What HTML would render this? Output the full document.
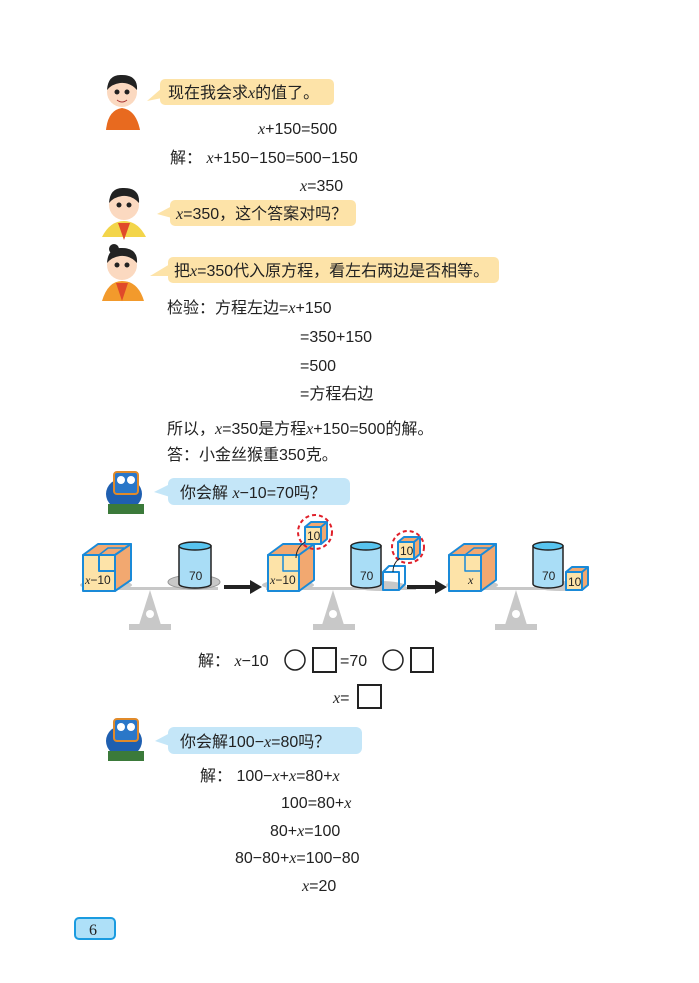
<!DOCTYPE html>
<html><head><meta charset="utf-8"><style>
html,body{margin:0;padding:0;background:#fff;}
svg{display:block;}
text{font-family:"Liberation Sans","Noto Sans CJK SC",sans-serif;font-size:16px;fill:#222;}
.i{font-family:"Liberation Serif",serif;font-style:italic;}
.s{font-size:12px;}
</style></head><body>
<svg width="699" height="983" viewBox="0 0 699 983" xmlns="http://www.w3.org/2000/svg">
<defs>
<g id="kid">
 <ellipse cx="22" cy="20" rx="15" ry="15" fill="#fbd9c0"/>
 <path d="M7 18 Q8 2 22 3 Q38 3 37 18 Q30 10 20 11 Q12 12 7 18Z" fill="#222"/>
 <circle cx="17" cy="20" r="2.5" fill="#222"/><circle cx="27" cy="20" r="2.5" fill="#222"/>
 <path d="M17 28 Q22 32 27 28" stroke="#a33" fill="none"/>
 <path d="M6 58 Q8 38 22 36 Q36 38 40 58Z" fill="#e86a1f"/>
</g>
</defs>

<use href="#kid" x="100" y="72"/>
<g transform="translate(100,185)">
 <ellipse cx="24" cy="20" rx="15" ry="15" fill="#fbd9c0"/>
 <path d="M9 18 Q10 2 24 3 Q40 3 39 18 Q32 10 22 11 Q14 12 9 18Z" fill="#222"/>
 <circle cx="19" cy="20" r="2.5" fill="#222"/><circle cx="29" cy="20" r="2.5" fill="#222"/>
 <path d="M2 52 Q10 36 24 36 Q38 36 46 52Z" fill="#f3d54a"/>
 <path d="M18 38 L24 55 L30 38Z" fill="#e04a2a"/>
</g>
<g transform="translate(100,243)">
 <ellipse cx="22" cy="22" rx="15" ry="15" fill="#fbd9c0"/>
 <path d="M7 20 Q8 4 22 5 Q38 5 37 20 Q30 12 20 13 Q12 14 7 20Z" fill="#222"/>
 <circle cx="14" cy="6" r="5" fill="#222"/>
 <circle cx="17" cy="22" r="2.5" fill="#222"/><circle cx="27" cy="22" r="2.5" fill="#222"/>
 <path d="M2 58 Q8 38 22 38 Q38 38 44 58Z" fill="#f29a2c"/>
 <path d="M16 40 L22 58 L28 40Z" fill="#e04a2a"/>
</g>
<g transform="translate(100,470)">
 <ellipse cx="24" cy="24" rx="18" ry="16" fill="#1f5fb0"/>
 <rect x="14" y="2" width="24" height="22" rx="3" fill="#2a77c8" stroke="#e08a2a" stroke-width="2"/>
 <circle cx="21" cy="10" r="4" fill="#fff"/><circle cx="31" cy="10" r="4" fill="#fff"/>
 <rect x="8" y="34" width="36" height="10" fill="#3b7a3a"/>
</g>
<g transform="translate(100,717)">
 <ellipse cx="24" cy="24" rx="18" ry="16" fill="#1f5fb0"/>
 <rect x="14" y="2" width="24" height="22" rx="3" fill="#2a77c8" stroke="#e08a2a" stroke-width="2"/>
 <circle cx="21" cy="10" r="4" fill="#fff"/><circle cx="31" cy="10" r="4" fill="#fff"/>
 <rect x="8" y="34" width="36" height="10" fill="#3b7a3a"/>
</g>

<g fill="#fde3a8">
 <rect x="160" y="79" width="174" height="26" rx="5"/><path d="M147 101 L162 88 L162 98Z"/>
 <rect x="170" y="200" width="186" height="26" rx="5"/><path d="M157 214 L172 206 L172 218Z"/>
 <rect x="168" y="257" width="331" height="26" rx="5"/><path d="M150 276 L170 264 L170 276Z"/>
</g>
<g fill="#c4e6f8">
 <rect x="168" y="478" width="182" height="27" rx="6"/><path d="M154 492 L170 484 L170 497Z"/>
 <rect x="168" y="727" width="194" height="27" rx="6"/><path d="M155 741 L170 733 L170 746Z"/>
</g>
<text x="168" y="98">现在我会求<tspan class="i">x</tspan>的值了。</text>
<text x="176" y="219"><tspan class="i">x</tspan>=350，这个答案对吗？</text>
<text x="174" y="276">把<tspan class="i">x</tspan>=350代入原方程，看左右两边是否相等。</text>
<text x="180" y="498">你会解 <tspan class="i">x</tspan>−10=70吗？</text>
<text x="180" y="747">你会解100−<tspan class="i">x</tspan>=80吗？</text>

<text x="258" y="134"><tspan class="i">x</tspan>+150=500</text>
<text x="170" y="163">解：  <tspan class="i">x</tspan>+150−150=500−150</text>
<text x="300" y="191"><tspan class="i">x</tspan>=350</text>
<text x="167" y="313">检验：方程左边=<tspan class="i">x</tspan>+150</text>
<text x="300" y="342">=350+150</text>
<text x="300" y="371">=500</text>
<text x="300" y="399">=方程右边</text>
<text x="167" y="434">所以，<tspan class="i">x</tspan>=350是方程<tspan class="i">x</tspan>+150=500的解。</text>
<text x="167" y="460">答：小金丝猴重350克。</text>

<text x="198" y="666">解：  <tspan class="i">x</tspan>−10</text>
<circle cx="295" cy="660" r="10" fill="none" stroke="#222" stroke-width="1.5"/>
<rect x="313" y="648" width="23" height="24" fill="none" stroke="#222" stroke-width="2"/>
<text x="340" y="666">=70</text>
<circle cx="393" cy="660" r="10" fill="none" stroke="#222" stroke-width="1.5"/>
<rect x="411" y="648" width="22" height="24" fill="none" stroke="#222" stroke-width="2"/>
<text x="333" y="703"><tspan class="i">x</tspan>=</text>
<rect x="358" y="685" width="23" height="23" fill="none" stroke="#222" stroke-width="2"/>

<text x="200" y="781">解：  100−<tspan class="i">x</tspan>+<tspan class="i">x</tspan>=80+<tspan class="i">x</tspan></text>
<text x="281" y="808">100=80+<tspan class="i">x</tspan></text>
<text x="270" y="836">80+<tspan class="i">x</tspan>=100</text>
<text x="235" y="863">80−80+<tspan class="i">x</tspan>=100−80</text>
<text x="302" y="891"><tspan class="i">x</tspan>=20</text>

<rect x="75" y="918" width="40" height="21" rx="4" fill="#aee0f8" stroke="#1a9be0" stroke-width="2"/>
<text x="89" y="935" style="font-family:'Liberation Serif',serif">6</text>

<g fill="#c8c8c8">
 <rect x="84" y="587" width="134" height="3"/><rect x="266" y="587" width="150" height="3"/><rect x="449" y="587" width="135" height="3"/>
 <path d="M150 590 L139 625 L161 625Z"/><rect x="129" y="624" width="42" height="6"/>
 <path d="M333 590 L322 625 L344 625Z"/><rect x="313" y="624" width="42" height="6"/>
 <path d="M516 590 L505 625 L527 625Z"/><rect x="495" y="624" width="42" height="6"/>
 <ellipse cx="106" cy="585" rx="26" ry="5"/><ellipse cx="194" cy="582" rx="26" ry="7" stroke="#999"/>
 <ellipse cx="288" cy="585" rx="26" ry="5"/><ellipse cx="380" cy="586" rx="26" ry="5"/>
 <ellipse cx="472" cy="585" rx="26" ry="5"/><ellipse cx="560" cy="586" rx="26" ry="5"/>
</g>
<g fill="#fff"><circle cx="150" cy="614" r="4"/><circle cx="333" cy="614" r="4"/><circle cx="516" cy="614" r="4"/></g>
<g fill="#222"><rect x="224" y="585" width="28" height="4"/><path d="M250 580 L262 587 L250 594Z"/>
<rect x="407" y="585" width="30" height="4"/><path d="M435 580 L447 587 L435 594Z"/></g>

<g stroke="#1a8ad8" stroke-width="2" stroke-linejoin="round">
 <path d="M83 555 L98 544 L131 544 L115 555Z" fill="#f2a870"/><path d="M115 555 L131 544 L131 580 L115 591Z" fill="#f2a870"/>
 <rect x="83" y="555" width="32" height="36" fill="#fde3a8"/>
 <path d="M99 555 L99 571 L115 571" fill="none"/><path d="M99 555 L108 548 L124 548" fill="none" stroke-width="1.5"/>
 <rect x="268" y="555" width="31" height="36" fill="#fde3a8"/><path d="M268 555 L283 544 L314 544 L299 555Z" fill="#f2a870"/><path d="M299 555 L314 544 L314 580 L299 591Z" fill="#f2a870"/>
 <rect x="283" y="555" width="16" height="16" fill="none" stroke-width="1.5"/>
 <rect x="449" y="555" width="32" height="36" fill="#fde3a8"/><path d="M449 555 L464 544 L496 544 L481 555Z" fill="#f2a870"/><path d="M481 555 L496 544 L496 580 L481 591Z" fill="#f2a870"/>
 <path d="M465 555 L474 548 L490 548" fill="none" stroke-width="1.5"/><path d="M465 555 L465 571 L481 571" fill="none" stroke-width="1.5"/>
 <rect x="305" y="527" width="16" height="17" fill="#fde3a8"/><path d="M305 527 L311 522 L327 522 L321 527Z M321 527 L327 522 L327 539 L321 544Z" fill="#f2a870"/>
 <rect x="398" y="542" width="16" height="17" fill="#fde3a8"/><path d="M398 542 L404 537 L420 537 L414 542Z M414 542 L420 537 L420 554 L414 559Z" fill="#f2a870"/>
 <rect x="566" y="572" width="16" height="18" fill="#fde3a8"/><path d="M566 572 L572 567 L588 567 L582 572Z M582 572 L588 567 L588 585 L582 590Z" fill="#f2a870"/>
 <rect x="383" y="572" width="16" height="18" fill="none"/><path d="M383 572 L389 566 L405 566 L405 584 L399 590" fill="none"/>
</g>
<text x="85" y="584" class="s"><tspan class="i">x</tspan>−10</text>
<text x="270" y="584" class="s"><tspan class="i">x</tspan>−10</text>
<text x="468" y="584" class="s i">x</text>
<text x="307" y="540" class="s">10</text><text x="400" y="555" class="s">10</text><text x="568" y="586" class="s">10</text>
<circle cx="315" cy="532" r="17" fill="none" stroke="#e0202a" stroke-width="2" stroke-dasharray="4,3"/>
<circle cx="408" cy="547" r="16" fill="none" stroke="#e0202a" stroke-width="2" stroke-dasharray="4,3"/>
<path d="M305 542 Q296 548 296 558" stroke="#222" fill="none"/><path d="M400 558 Q393 563 393 572" stroke="#222" fill="none"/>

<g stroke="#222" stroke-width="1.5">
 <path d="M179 546 L179 584 A16 4 0 0 0 211 584 L211 546Z" fill="#a9ddf6"/><ellipse cx="195" cy="546" rx="16" ry="4" fill="#58c4ef"/>
 <path d="M351 546 L351 584 A15 4 0 0 0 381 584 L381 546Z" fill="#a9ddf6"/><ellipse cx="366" cy="546" rx="15" ry="4" fill="#58c4ef"/>
 <path d="M533 546 L533 584 A15 4 0 0 0 563 584 L563 546Z" fill="#a9ddf6"/><ellipse cx="548" cy="546" rx="15" ry="4" fill="#58c4ef"/>
</g>
<text x="189" y="580" class="s">70</text><text x="360" y="580" class="s">70</text><text x="542" y="580" class="s">70</text>
</svg>
</body></html>
